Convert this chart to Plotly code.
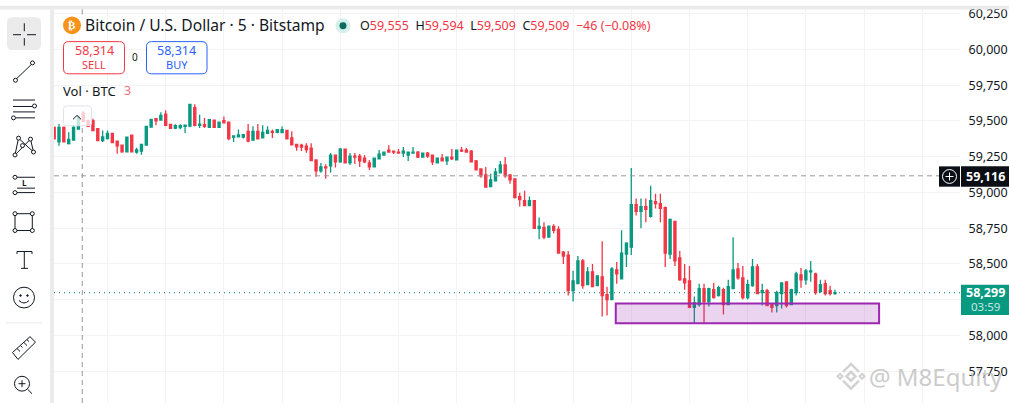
import plotly.graph_objects as go

# BTC/USD 5 min candles
opens = [59455,59353,59455,59342,59365,59443,59554,59501,59501,59446,59363,59377,59413,59358,59330,59284,59400,59282,59289,59330,
         59457,59515,59506,59547,59476,59450,59453,59462,59464,59593,59469,59473,59455,59506,59455,59501,59492,59386,59388,59386,
         59427,59365,59427,59381,59413,59427,59420,59418,59434,59381,59335,59330,59323,59310,59227,59150,59178,59185,59261,59213,
         59303,59206,59254,59254,59240,59206,59178,59234,59261,59296,59289,59282,59275,59261,59275,59282,59247,59275,59261,59206,
         59240,59220,59247,59227,59296,59296,59289,59220,59164,59123,59040,59081,59137,59192,59123,59095,58971,58943,58908,58943,
         58749,58756,58687,58763,58742,58583,58562,58313,58362,58521,58355,58445,58348,58410,58285,58251,58458,58396,58569,58618,
         58915,58867,58901,58832,58936,58922,58894,58569,58798,58542,58396,58382,58196,58216,58327,58237,58320,58279,58320,58216,
         58327,58465,58403,58265,58348,58479,58299,58313,58216,58209,58292,58375,58216,58299,58424,58389,58445,58431,58306,58362,
         58313,58292]
highs = [59460,59478,59460,59420,59469,59535,59570,59510,59515,59448,59432,59432,59415,59360,59332,59388,59402,59312,59337,59464,
         59512,59517,59561,59575,59478,59476,59476,59473,59618,59616,59543,59520,59510,59508,59494,59531,59494,59397,59439,59406,
         59478,59462,59478,59469,59462,59439,59443,59460,59436,59427,59337,59340,59344,59344,59231,59206,59197,59275,59263,59310,
         59305,59275,59275,59268,59261,59227,59242,59296,59284,59330,59291,59303,59317,59284,59317,59289,59277,59282,59263,59242,
         59268,59249,59303,59298,59317,59310,59296,59227,59166,59178,59130,59171,59220,59247,59125,59097,58998,59012,58971,58945,
         58825,58791,58770,58777,58763,58590,58590,58452,58555,58535,58479,58500,58419,58659,58341,58479,58514,58735,58652,59171,
         58957,58957,58957,59047,58991,58991,58901,58818,58800,58590,58500,58486,58272,58362,58362,58334,58368,58348,58334,58389,
         58687,58507,58486,58389,58535,58500,58362,58327,58218,58313,58370,58377,58327,58445,58472,58465,58521,58438,58389,58389,
         58348,58320]
lows = [59374,59326,59351,59335,59363,59441,59490,59455,59430,59360,59353,59370,59347,59270,59277,59282,59282,59270,59263,59326,
        59455,59469,59504,59462,59448,59441,59441,59416,59455,59462,59450,59450,59453,59453,59453,59485,59365,59353,59386,59377,
        59351,59363,59372,59379,59409,59381,59413,59416,59370,59331,59291,59289,59277,59220,59109,59137,59095,59137,59174,59208,
        59204,59192,59199,59178,59206,59157,59176,59232,59259,59282,59268,59273,59247,59220,59273,59240,59245,59240,59192,59204,
        59218,59192,59227,59225,59282,59280,59211,59155,59102,59033,59038,59079,59135,59102,59061,58957,58901,58906,58906,58747,
        58673,58673,58685,58715,58574,58500,58279,58237,58360,58327,58353,58339,58346,58133,58140,58249,58362,58394,58479,58562,
        58839,58749,58791,58825,58888,58791,58479,58535,58486,58382,58320,58194,58085,58202,58089,58202,58258,58272,58147,58214,
        58325,58389,58251,58251,58341,58290,58209,58207,58161,58161,58189,58196,58214,58279,58334,58355,58375,58285,58299,58279,
        58279,58285]
closes = [59374,59455,59353,59370,59455,59531,59496,59462,59432,59363,59388,59413,59349,59326,59284,59386,59284,59298,59335,59462,
          59510,59501,59538,59469,59448,59466,59466,59471,59616,59469,59478,59462,59508,59455,59492,59487,59377,59395,59402,59404,
          59358,59427,59374,59420,59434,59420,59439,59439,59374,59333,59319,59317,59300,59222,59150,59178,59171,59261,59213,59303,
          59206,59254,59247,59220,59213,59178,59240,59268,59282,59282,59282,59275,59289,59282,59282,59247,59275,59254,59213,59240,
          59220,59247,59234,59296,59289,59282,59213,59157,59116,59037,59088,59144,59192,59116,59088,58964,58950,58908,58943,58749,
          58763,58687,58763,58735,58576,58555,58313,58382,58521,58348,58445,58341,58417,58279,58251,58465,58431,58576,58645,58915,
          58867,58901,58881,58943,58922,58888,58576,58811,58521,58389,58368,58196,58230,58327,58237,58327,58265,58334,58216,58341,
          58458,58403,58265,58355,58479,58292,58313,58209,58196,58299,58368,58209,58320,58431,58389,58452,58452,58299,58355,58292,
          58292,58299]
candle_x = list(range(len(opens)))

# 58,250 sits under the green price tag, so its label stays empty
tick_vals = [57750, 58000, 58250, 58500, 58750, 59000, 59250, 59500, 59750, 60000, 60250]
tick_text = ["57,750", "58,000", "", "58,500", "58,750", "59,000", "59,250", "59,500", "59,750", "60,000", "60,250"]

last_price = 58299
cross_price = 59116
cross_x = 5.8
zone_x = [115.8, 170.1]
zone_y = [58085, 58224]

RED = "#F23645"
GREEN = "#089981"
BLUE = "#2962FF"
INK = "#131722"
BAND = "#EBEBEB"
GRID = "#F3F3F3"
FONT = "Noto Sans"
W, H = 1009, 403
DY = 1.5  # the page draws a little low


def px(x):  # window pixels -> paper
    return x / W


def py(y):
    return 1 - (y - DY) / H


shapes = []
notes = []


def line(x0, y0, x1, y1, color=INK, width=1):
    shapes.append(dict(type="line", xref="paper", yref="paper", x0=px(x0), x1=px(x1), y0=py(y0), y1=py(y1),
                       line=dict(color=color, width=width)))


def box(x0, y0, x1, y1, fill, color=None, width=0):
    shapes.append(dict(type="rect", xref="paper", yref="paper", x0=px(x0), x1=px(x1), y0=py(y0), y1=py(y1),
                       fillcolor=fill, line=dict(color=color or fill, width=width)))


def circle(cx, cy, r, fill="white", color=INK, width=1):
    shapes.append(dict(type="circle", xref="paper", yref="paper", x0=px(cx - r), x1=px(cx + r), y0=py(cy - r), y1=py(cy + r),
                       fillcolor=fill, line=dict(color=color, width=width)))


def poly(points, color=INK, width=1, close=False):
    d = "M" + " L".join(f"{px(a)},{py(b)}" for a, b in points) + (" Z" if close else "")
    shapes.append(dict(type="path", xref="paper", yref="paper", path=d, line=dict(color=color, width=width)))


def rounded(x0, y0, x1, y1, r, fill, color, width=1):
    d = (f"M{px(x0 + r)},{py(y0)} L{px(x1 - r)},{py(y0)} Q{px(x1)},{py(y0)} {px(x1)},{py(y0 + r)} "
         f"L{px(x1)},{py(y1 - r)} Q{px(x1)},{py(y1)} {px(x1 - r)},{py(y1)} "
         f"L{px(x0 + r)},{py(y1)} Q{px(x0)},{py(y1)} {px(x0)},{py(y1 - r)} "
         f"L{px(x0)},{py(y0 + r)} Q{px(x0)},{py(y0)} {px(x0 + r)},{py(y0)} Z")
    shapes.append(dict(type="path", xref="paper", yref="paper", path=d, fillcolor=fill, line=dict(color=color, width=width)))


def text(x, y, s, size=12, color=INK, anchor="left", bold=False, family=FONT):
    if bold:
        s = "<b>" + s + "</b>"
    notes.append(dict(xref="paper", yref="paper", x=px(x), y=py(y), text=s, showarrow=False, xanchor=anchor, yanchor="middle",
                      font=dict(size=size, color=color, family=family), borderpad=0, borderwidth=0))


# page frame
box(0, 3.3, W, 7, BAND)
box(50, 7, 54, H + 3, BAND)

# left toolbar
rounded(7, 15, 41, 48, 5, BAND, BAND, 0)
line(13, 32.5, 21, 32.5)
line(27, 32.5, 36, 32.5)
line(24.3, 21, 24.3, 29)
line(24.3, 36, 24.3, 43.5)

line(15.5, 78, 32.5, 61.5)
circle(15.5, 78.5, 2)
circle(32.5, 61, 2)

line(13, 98.5, 35, 98.5)
line(13, 105, 32, 105)
line(13, 110.5, 35, 110.5)
line(16, 116.5, 35, 116.5)
circle(34.5, 104.5, 2)
circle(13.5, 116.5, 2)

line(15, 154, 18.5, 137)
line(18.5, 137, 33.5, 151)
line(15, 154, 30.5, 138)
line(30.5, 138, 33.5, 151)
circle(15, 154, 2)
circle(18.5, 137, 2)
circle(30.5, 138, 2)
circle(33.5, 151, 2)
circle(22.5, 144.5, 2)

line(17, 176.5, 35, 176.5)
line(17, 187.5, 35, 187.5)
line(17, 192, 35, 192)
circle(15, 176.5, 2)
circle(15, 192, 2)
text(24.5, 181.5, "L", 8, INK, "center", True)

shapes.append(dict(type="rect", xref="paper", yref="paper", x0=px(15), x1=px(32.3), y0=py(213.3), y1=py(230.3),
                   line=dict(color=INK, width=1)))
for cx, cy in [(15, 213.3), (32.3, 213.3), (15, 230.3), (32.3, 230.3)]:
    circle(cx, cy, 2)

line(17, 251.5, 32, 251.5)
line(24.3, 251.5, 24.3, 268.5)
line(21, 268.5, 28, 268.5)
line(17, 251.5, 17, 254)
line(32, 251.5, 32, 254)

circle(24, 298, 10.5, "rgba(0,0,0,0)")
circle(20.5, 296, 0.8, INK)
circle(27.5, 296, 0.8, INK)
shapes.append(dict(type="path", xref="paper", yref="paper",
                   path=f"M{px(19)},{py(301)} Q{px(24)},{py(306)} {px(29)},{py(301)}", line=dict(color=INK, width=1)))

line(6, 323.5, 42, 323.5, BAND, 1)

poly([(12.5, 353.5), (30, 337.5), (35.5, 343), (18, 360.5)], close=True)
for a, b, c, d in [(17, 349.5, 20, 352.5), (20.5, 346.5, 22.5, 348.5), (24, 343.5, 27, 346.5), (27, 340.5, 29, 342.5)]:
    line(a, b, c, d)

circle(22, 385, 7.5, "rgba(0,0,0,0)")
line(27.5, 390.5, 32, 395)
line(18.5, 385, 25.5, 385)
line(22, 381.5, 22, 388.5)

# header legend
circle(72, 23, 9, "#F7931A", "#F7931A", 0)
text(72, 23, "₿", 11, "white", "center", True, "DejaVu Sans")
text(85, 23, "Bitcoin / U.S. Dollar · 5 · Bitstamp", 15.6, INK)
circle(343, 23.5, 7.5, "#D5EFEA", "#D5EFEA", 0)
circle(343, 23.5, 3.5, "#0B6B5D", "#0B6B5D", 0)


def red(s):
    return f"<span style='color:{RED}'>{s}</span>"


text(360, 23, "O" + red("59,555") + "  H" + red("59,594") + "  L" + red("59,509") + "  C" + red("59,509") + "  " + red("−46 (−0.08%)"), 12.5)

rounded(63.5, 39.5, 124.5, 72, 5, "white", RED)
text(94, 48.5, "58,314", 12.5, RED, "center")
text(94, 63, "SELL", 11, RED, "center")
text(135, 55, "0", 10, INK, "center")
rounded(146.5, 39.5, 207, 72, 5, "white", BLUE)
text(176.5, 48.5, "58,314", 12.5, BLUE, "center")
text(176.5, 63, "BUY", 11, BLUE, "center")
text(63, 89, "Vol · BTC", 13, INK)
text(124, 89, "3", 12.5, "#F7707C")

rounded(63.5, 104.5, 91.5, 124.5, 3, "rgba(255,255,255,0.75)", "#E0E3EB")
poly([(73, 118), (77, 114), (81, 118)])

# crosshair, last price and the zone, all on the chart's own scales
# the legend panel hides the crosshair between y=12 and y=124
shapes.append(dict(type="line", xref="x", yref="paper", x0=cross_x, x1=cross_x, y0=0, y1=py(125),
                   line=dict(color="#9598A1", width=1, dash="5px,4px")))
shapes.append(dict(type="line", xref="x", yref="paper", x0=cross_x, x1=cross_x, y0=py(12), y1=py(7),
                   line=dict(color="#9598A1", width=1)))
shapes.append(dict(type="line", xref="paper", yref="y", x0=px(54), x1=px(939), y0=cross_price, y1=cross_price,
                   line=dict(color="#9598A1", width=1, dash="5px,4px")))
shapes.append(dict(type="line", xref="paper", yref="y", x0=px(54), x1=px(960), y0=last_price, y1=last_price,
                   line=dict(color="#067A66", width=1, dash="1px,4px")))
shapes.append(dict(type="rect", xref="x", yref="y", x0=zone_x[0], x1=zone_x[1], y0=zone_y[0], y1=zone_y[1],
                   fillcolor="rgba(156,39,176,0.2)", line=dict(color="#9C27B0", width=2)))

# price scale tags
box(939, 165.5, 960, 186, "#0C0E15")
circle(949.5, 175.7, 7, "rgba(0,0,0,0)", "white", 1)
line(945.5, 175.7, 953.5, 175.7, "white")
line(949.5, 171.7, 949.5, 179.7, "white")
box(961, 165.5, W, 186, "#0C0E15")
text(985, 175.5, f"{cross_price:,}", 12.5, "white", "center", True)
box(961, 285, W, 315.7, GREEN)
text(985, 292.5, f"{last_price:,}", 12.5, "white", "center", True)
text(985, 307.5, "03:59", 11.5, "#C4E8E1", "center")

# watermark
WM = "rgba(190,190,190,0.8)"
poly([(843, 373), (851, 365), (859, 373)], "#D2D2D2", 2.5)
poly([(843, 382), (851, 390), (859, 382)], "#D2D2D2", 2.5)
poly([(851, 373), (855.5, 377.5), (851, 382), (846.5, 377.5)], "#D2D2D2", 2.5, True)
poly([(840, 375), (842.5, 377.5), (840, 380), (837.5, 377.5)], "#D2D2D2", 2, True)
poly([(862, 375), (864.5, 377.5), (862, 380), (859.5, 377.5)], "#D2D2D2", 2, True)
text(869, 378, "@ M8Equity", 24, WM)

fig = go.Figure(go.Candlestick(
    x=candle_x, open=opens, high=highs, low=lows, close=closes,
    increasing=dict(line=dict(color=GREEN, width=1.3), fillcolor=GREEN),
    decreasing=dict(line=dict(color=RED, width=1.3), fillcolor=RED),
    whiskerwidth=0, hoverinfo="none", showlegend=False))

fig.update_layout(
    width=W, height=H, autosize=False,
    margin=dict(l=0, r=0, t=0, b=0),
    paper_bgcolor="white", plot_bgcolor="white",
    boxgap=0.38,
    font=dict(family=FONT, color=INK, size=12),
    showlegend=False,
    shapes=shapes,
    annotations=notes,
    xaxis=dict(domain=[px(54), px(960)], range=[-0.03, 186.78], tick0=11, dtick=12, showticklabels=False,
               showgrid=True, gridcolor=GRID, gridwidth=1, zeroline=False, showline=False, ticks="",
               rangeslider=dict(visible=False)),
    yaxis=dict(domain=[0, py(7)], range=[57528, 60279], side="right", tickmode="array", tickvals=tick_vals, ticktext=tick_text,
               showgrid=True, gridcolor=GRID, gridwidth=1, zeroline=False, showline=False,
               ticks="outside", ticklen=5, tickcolor="rgba(0,0,0,0)", tickfont=dict(size=12.5, color=INK, family=FONT)),
)

fig.write_html("out.html", config=dict(displayModeBar=False), post_script="document.body.style.margin='0';")
